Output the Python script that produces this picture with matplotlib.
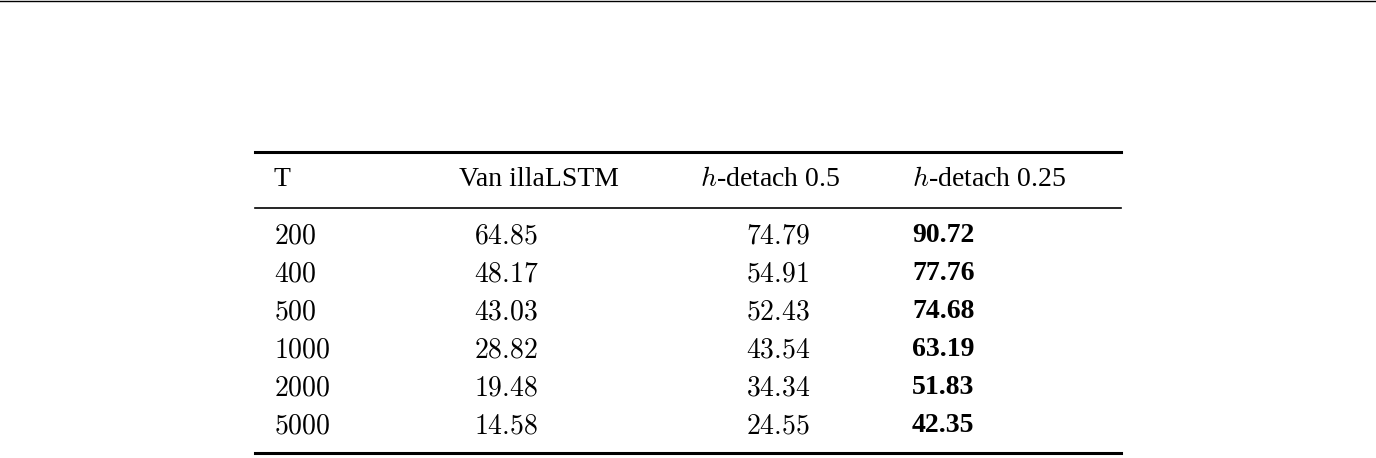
import matplotlib
matplotlib.use("Agg")
import matplotlib.pyplot as plt
from matplotlib.lines import Line2D

plt.rcParams['mathtext.fontset'] = 'cm'

headers = ["T", "Van illaLSTM", "$h$-detach 0.5", "$h$-detach 0.25"]
T = ["200", "400", "500", "1000", "2000", "5000"]
vanilla = ["64.85", "48.17", "43.03", "28.82", "19.48", "14.58"]
hd05 = ["74.79", "54.91", "52.43", "43.54", "34.34", "24.55"]
hd025 = ["90.72", "77.76", "74.68", "63.19", "51.83", "42.35"]

W, H = 1376, 458
fig = plt.figure(figsize=(W/100, H/100), dpi=100)
ax = fig.add_axes([0, 0, 1, 1])
ax.set_xlim(0, W); ax.set_ylim(H, 0); ax.axis('off')

ax.add_line(Line2D([0, W], [0.5, 0.5], color='black', lw=1))
for y, lw in [(152, 2.2), (208, 1.2), (453, 2.2)]:
    ax.add_line(Line2D([255, 1121], [y, y], color='black', lw=lw))

fs = 20
hx = [274, 459, 700, 912]
for x, h in zip(hx, headers):
    ax.text(x, 180, h, fontsize=fs, family='Liberation Serif', ha='left', va='center')

rows_y = [235, 273, 311, 349, 387, 425]
for i, y in enumerate(rows_y):
    ax.text(274, y, f"${T[i]}$", fontsize=fs, ha='left', va='center')
    ax.text(474, y, f"${vanilla[i]}$", fontsize=fs, ha='left', va='center')
    ax.text(746, y, f"${hd05[i]}$", fontsize=fs, ha='left', va='center')
    ax.text(912, y, hd025[i], fontsize=fs, family='Liberation Serif', weight='bold', ha='left', va='center')

fig.savefig("out.png", dpi=100)
